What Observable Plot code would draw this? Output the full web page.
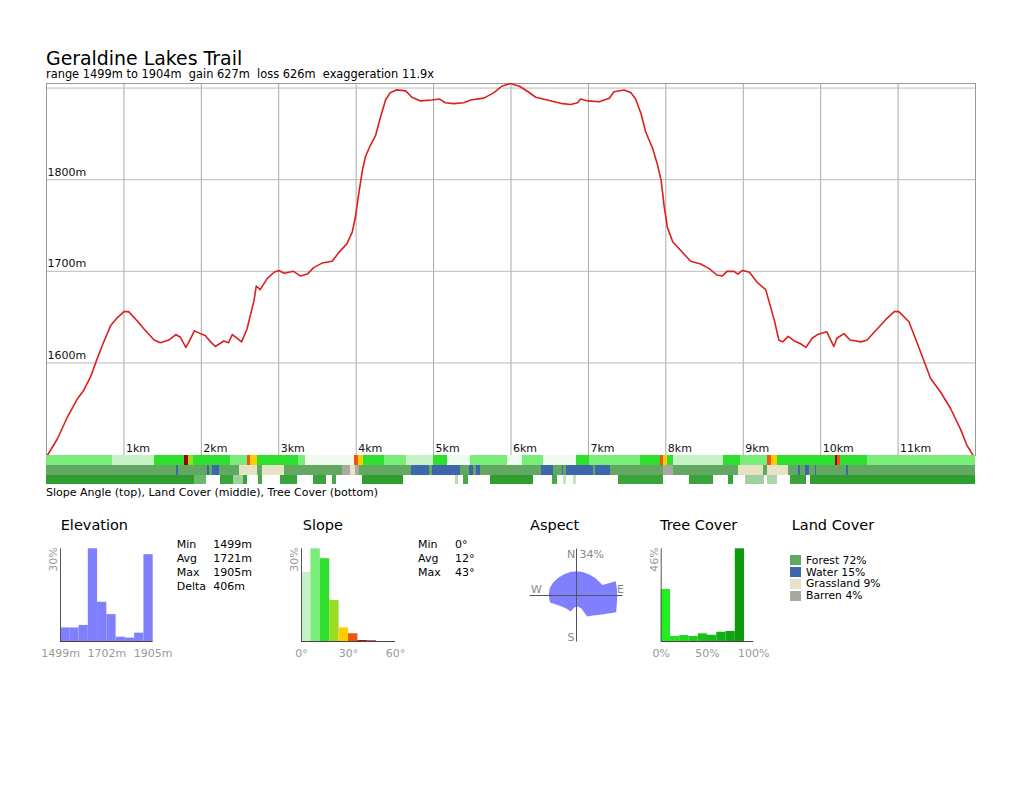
<!DOCTYPE html>
<html><head><meta charset="utf-8">
<script src="https://cdn.jsdelivr.net/npm/d3@7"></script>
<script src="https://cdn.jsdelivr.net/npm/@observablehq/plot@0.6"></script>
<style>
body{margin:0;background:#fff;}
#root{position:relative;width:1024px;height:792px;overflow:hidden;background:#fff;font-family:"DejaVu Sans",sans-serif;}
</style></head>
<body><div id="root"></div>
<script>
// ---------- data ----------
const titleText = "Geraldine Lakes Trail";
const subtitleText = "range 1499m to 1904m  gain 627m  loss 626m  exaggeration 11.9x";
const captionText = "Slope Angle (top), Land Cover (middle), Tree Cover (bottom)";

const kmTicks = [1,2,3,4,5,6,7,8,9,10,11];
const elevTicks = [1600,1700,1800,1900];
const elevLabelTicks = [1600,1700,1800];

const profileKm = [0.01,0.14,0.27,0.40,0.48,0.57,0.63,0.72,0.83,0.91,1.00,1.06,1.17,1.26,1.39,1.47,1.58,1.67,1.73,1.80,1.84,1.91,1.99,2.05,2.12,2.18,2.29,2.35,2.40,2.46,2.52,2.59,2.68,2.71,2.76,2.85,2.94,3.00,3.07,3.19,3.28,3.37,3.45,3.56,3.69,3.78,3.88,3.95,3.99,4.03,4.08,4.12,4.18,4.25,4.31,4.38,4.44,4.52,4.64,4.72,4.83,4.98,5.08,5.15,5.26,5.39,5.48,5.65,5.78,5.88,5.99,
6.11,6.22,6.32,6.52,6.67,6.77,6.86,6.90,6.99,7.14,7.27,7.33,7.46,7.55,7.61,7.68,7.74,7.83,7.89,7.94,7.98,8.02,8.09,8.19,8.32,8.45,8.56,8.66,8.73,8.79,8.88,8.93,8.99,9.08,9.18,9.29,9.33,9.40,9.46,9.51,9.58,9.66,9.74,9.81,9.89,9.96,10.08,10.13,10.17,10.21,10.30,10.38,10.52,10.60,10.73,10.86,10.95,11.01,11.14,11.25,11.34,11.42,11.55,11.68,11.81,11.89,11.97];
const profileElev = [1499,1517,1541,1561,1570,1585,1599,1619,1641,1649,1656,1656,1646,1637,1625,1622,1625,1631,1628,1617,1623,1635,1632,1630,1623,1618,1624,1622,1631,1627,1623,1637,1668,1684,1680,1692,1699,1701,1698,1700,1695,1697,1704,1709,1711,1721,1730,1743,1759,1783,1810,1825,1837,1848,1867,1887,1895,1898,1897,1890,1886,1887,1888,1884,1883,1884,1887,1889,1895,1902,1905,
1902,1896,1890,1886,1883,1882,1884,1888,1886,1885,1889,1896,1898,1895,1888,1872,1852,1834,1817,1799,1770,1748,1732,1723,1711,1708,1703,1696,1695,1700,1700,1697,1701,1699,1688,1680,1668,1647,1625,1623,1629,1624,1621,1617,1627,1631,1634,1625,1618,1627,1632,1625,1623,1625,1637,1649,1656,1656,1645,1621,1601,1583,1568,1550,1527,1510,1499];

// slope strip (degrees), run boundaries in km
const slopeBreaks = [0,0.55,0.85,1.40,1.78,1.83,1.90,2.00,2.38,2.60,2.64,2.72,2.98,3.25,3.35,3.98,4.03,4.10,4.36,4.65,5.00,5.18,5.48,5.95,6.15,6.42,6.85,7.02,7.67,7.93,7.97,8.02,8.10,8.75,8.96,9.31,9.37,9.44,9.95,10.19,10.22,10.25,10.60,12.00];
const slopeDeg = [10,8,5,15,40,22,16,12,8,32,26,12,15,8,2,32,26,15,8,4,15,2,8,2,8,1,15,9,14,32,26,12,4,15,8,32,26,12,15,40,32,15,7];
const slopeThresholds = [3,6,12,18,24,30,36];
const slopeColors = ["#eefbee","#c4f2c4","#7aec7a","#2ee02e","#99dd22","#ffcc00","#ee5511","#a00000"];

// land cover strip
const landNames = ["Forest","Water","Grassland","Barren"];
const landPct = [72,15,9,4];
const landColors = ["#62a862","#3d66ad","#e6e2c6","#aaa9a1"];
const landBreaks = [0,1.68,1.71,2.08,2.11,2.15,2.23,2.49,2.73,2.79,3.07,3.82,3.93,3.99,4.04,4.72,4.95,4.98,5.35,5.47,5.52,5.56,5.60,6.40,6.55,6.66,6.68,6.72,7.07,7.09,7.28,7.97,8.10,8.94,9.26,9.31,9.59,9.71,9.74,9.80,9.85,9.93,9.95,10.34,10.36,12];
const landClass = ["Forest","Water","Forest","Water","Forest","Water","Forest","Grassland","Forest","Grassland","Forest","Barren","Grassland","Barren","Forest","Water","Forest","Water","Forest","Water","Forest","Water","Forest","Water","Forest","Water","Forest","Water","Forest","Water","Forest","Barren","Forest","Grassland","Forest","Grassland","Forest","Water","Forest","Water","Forest","Water","Forest","Water","Forest"];

// tree cover strip (%)
const treeBreaks = [0,1.91,2.07,2.25,2.42,2.55,2.59,2.74,2.79,3.02,3.24,3.45,3.62,3.69,3.75,4.08,4.61,5.28,5.32,5.39,5.45,5.73,6.29,6.53,6.60,6.68,6.72,6.81,6.85,7.39,7.97,8.30,8.62,8.81,8.88,9.03,9.27,9.31,9.44,9.61,9.82,9.87,12];
const treePct = [85,60,0,80,40,80,0,75,0,80,0,80,0,75,0,85,0,30,0,75,0,85,0,75,0,25,0,25,0,80,0,80,0,80,0,40,0,35,0,80,0,85];

// histograms (% per bin)
const elevHist = [4.4,4.4,5.2,30,12.7,8.7,1.4,1.1,2.7,28.1];
const elevHistLabels = [1499,1702,1905];
const slopeHist = [22.4,30,26.8,13.3,4.4,2.5,0.3,0.2];
const slopeHistLabels = [0,30,60];
const treeHist = [25.8,2.5,3.0,2.5,3.8,3.1,4.6,5.0,46,0];
const treeHistLabels = [0,50,100];

const elevStatNames = ["Min","Avg","Max","Delta"];
const elevStatValues = ["1499m","1721m","1905m","406m"];
const slopeStatNames = ["Min","Avg","Max"];
const slopeStatValues = ["0°","12°","43°"];

// aspect rose: direction (deg from N, clockwise) and share (%)
const aspectDeg = [0,15,30,45,53,68,70,80,90,100,113,125,140,153,160,175,190,200,215,230,245,255,270,285,300,315,330,345];
const aspectPct = [17.8,17.8,18.0,18.5,19.0,20.5,30.5,30.0,29.8,30.0,31.5,24.0,19.0,17.2,10.0,8.0,9.0,12.5,12.0,13.0,16.0,20.0,20.3,20.3,19.5,18.5,18.0,17.8];
const aspectMax = 34;

// ---------- helpers ----------
const root = document.getElementById("root");
const FONT = '"DejaVu Sans", sans-serif';
function place(el, left, top) {
  el.style.position = "absolute";
  el.style.left = left + "px";
  el.style.top = top + "px";
  root.appendChild(el);
  return el;
}
function label(txt, x, baseline, size, opts = {}) {
  const d = document.createElement("div");
  d.textContent = txt;
  d.style.cssText = `font-family:${FONT};font-size:${size}px;line-height:${size}px;white-space:pre;color:${opts.color || "#000"};` + (opts.bg ? `background:${opts.bg};` : "");
  return place(d, x, baseline - 0.846 * size);
}
const baseStyle = {fontFamily: FONT, fontSize: "11px", background: "transparent", color: "#111", overflow: "visible"};

// ---------- main profile ----------
const profile = profileKm.map((km, i) => ({km, elev: profileElev[i]}));
const main = Plot.plot({
  width: 1024, height: 458,
  marginTop: 83, marginBottom: 3, marginLeft: 46, marginRight: 49,
  x: {domain: [0, 12], axis: null},
  y: {domain: [1499, 1905], axis: null},
  style: baseStyle,
  marks: [
    Plot.ruleX(kmTicks, {stroke: "#aaa", strokeWidth: 1}),
    Plot.ruleY(elevTicks, {stroke: "#bbb", strokeWidth: 1}),
    Plot.frame({stroke: "#999"}),
    Plot.text(kmTicks, {x: d => d, y: 1499, text: d => `${d}km`, textAnchor: "start", dx: 2, dy: -7, fill: "#111"}),
    Plot.text(elevLabelTicks, {x: 0, y: d => d, text: d => `${d}m`, textAnchor: "start", dx: 1, dy: -7.5, fill: "#111"}),
    Plot.line(profile, {x: "km", y: "elev", stroke: "#dd1f1f", strokeWidth: 1.6})
  ]
});
place(main, 0, 0);

// ---------- strips ----------
function strip(breaks, values, color, top, h) {
  const data = values.map((v, i) => ({x1: breaks[i], x2: breaks[i + 1], v}));
  const svg = Plot.plot({
    width: 1024, height: h, marginTop: 0, marginBottom: 0, marginLeft: 46, marginRight: 49,
    x: {domain: [0, 12], axis: null},
    color,
    style: baseStyle,
    marks: [Plot.rect(data, {x1: "x1", x2: "x2", fill: "v", shapeRendering: "crispEdges"})]
  });
  place(svg, 0, top);
}
strip(slopeBreaks, slopeDeg, {type: "threshold", domain: slopeThresholds, range: slopeColors}, 455, 10);
strip(landBreaks, landClass, {type: "ordinal", domain: landNames, range: landColors}, 465, 10);
strip(treeBreaks, treePct, {type: "linear", domain: [0, 85], range: ["#ffffff", "#2e9e2e"], clamp: true}, 475, 9);

// ---------- text: title, subtitle, caption ----------
label(titleText, 46, 64.5, 18.9);
label(subtitleText, 46, 79, 11.4);
label(captionText, 46, 496.5, 11);

// ---------- histograms ----------
function histogram({left, width, x0, x1, domain, edges, values, fill, color, yMax, ticks, fmt, yLabel}) {
  const top = 540, height = 122;
  const data = values.map((v, i) => ({a: edges[i], b: edges[i + 1], v, mid: (edges[i] + edges[i + 1]) / 2}));
  const svg = Plot.plot({
    width, height,
    marginLeft: x0 - left, marginRight: left + width - x1,
    marginTop: 548.3 - top, marginBottom: top + height - 641,
    x: {domain, axis: null},
    y: {domain: [0, yMax], axis: null},
    color,
    style: baseStyle,
    marks: [
      Plot.rect(data, {x1: "a", x2: "b", y1: 0, y2: "v", fill: fill || "mid"}),
      Plot.ruleX([domain[0]], {stroke: "#555"}),
      Plot.ruleY([0], {stroke: "#444"}),
      Plot.text(ticks, {x: d => d, y: 0, text: fmt, dy: 11.7, fill: "#999"}),
      Plot.text([yLabel], {x: domain[0], y: yMax, text: d => d, rotate: -90, textAnchor: "end", dx: -7, dy: -1.5, fill: "#999"})
    ]
  });
  place(svg, left, top);
}

histogram({
  left: 36, width: 140, x0: 60, x1: 152.7,
  domain: [1499, 1905], edges: d3.range(11).map(i => 1499 + i * 40.6),
  values: elevHist, fill: "#8080ff", yMax: 30,
  ticks: elevHistLabels, fmt: d => `${d}m`, yLabel: "30%"
});
histogram({
  left: 285, width: 125, x0: 301, x1: 395,
  domain: [0, 60], edges: d3.range(9).map(i => i * 6),
  values: slopeHist, color: {type: "threshold", domain: slopeThresholds, range: slopeColors}, yMax: 30,
  ticks: slopeHistLabels, fmt: d => `${d}°`, yLabel: "30%"
});
histogram({
  left: 645, width: 130, x0: 660.7, x1: 753.3,
  domain: [0, 100], edges: d3.range(11).map(i => i * 10),
  values: treeHist, color: {type: "linear", domain: [5, 85], range: ["#22ee22", "#109a10"]}, yMax: 46,
  ticks: treeHistLabels, fmt: d => `${d}%`, yLabel: "46%"
});

// ---------- aspect rose ----------
const aspectPts = aspectDeg.map((a, i) => ({
  x: aspectPct[i] * Math.sin(a * Math.PI / 180),
  y: aspectPct[i] * Math.cos(a * Math.PI / 180)
}));
const aspect = Plot.plot({
  width: 102, height: 102, marginLeft: 3.5, marginRight: 5.5, marginTop: 4.5, marginBottom: 4.5,
  x: {domain: [-aspectMax, aspectMax], axis: null},
  y: {domain: [-aspectMax, aspectMax], axis: null},
  style: baseStyle,
  marks: [
    Plot.text(["N"], {x: 0, y: aspectMax, text: d => d, dx: -5.5, dy: 5, fill: "#888"}),
    Plot.text([`${aspectMax}%`], {x: 0, y: aspectMax, text: d => d, dx: 3, dy: 5, textAnchor: "start", fill: "#888"}),
    Plot.text(["W"], {x: -aspectMax, y: 0, text: d => d, dx: 6.5, dy: -6.5, fill: "#888"}),
    Plot.text(["E"], {x: aspectMax, y: 0, text: d => d, dx: -2.5, dy: -6, fill: "#888"}),
    Plot.text(["S"], {x: 0, y: -aspectMax, text: d => d, dx: -5.5, dy: -4.5, fill: "#888"}),
    Plot.line(aspectPts, {x: "x", y: "y", curve: "linear-closed", fill: "#8080ff", stroke: "none"}),
    Plot.ruleX([0], {stroke: "#555"}),
    Plot.ruleY([0], {stroke: "#555"})
  ]
});
place(aspect, 526, 544);

// ---------- panel titles and stats ----------
label("Elevation", 60.7, 530, 14.5);
label("Slope", 302.7, 530, 14.5);
label("Aspect", 530, 530, 14.5);
label("Tree Cover", 660, 530, 14.5);
label("Land Cover", 791.7, 530, 14.5);

elevStatNames.forEach((n, i) => {
  label(n, 176.7, 548 + i * 14.2, 11);
  label(elevStatValues[i], 213.3, 548 + i * 14.2, 11);
});
slopeStatNames.forEach((n, i) => {
  label(n, 418, 548 + i * 14.2, 11);
  label(slopeStatValues[i], 455, 548 + i * 14.2, 11);
});

// ---------- land cover legend ----------
landNames.forEach((n, i) => {
  const sw = document.createElement("div");
  sw.style.cssText = `width:11px;height:10px;background:${landColors[i]};`;
  place(sw, 790, 555.3 + i * 11.8);
  label(`${n} ${landPct[i]}%`, 806, 565 + i * 11.8, 10.8);
});
</script>
</body></html>
